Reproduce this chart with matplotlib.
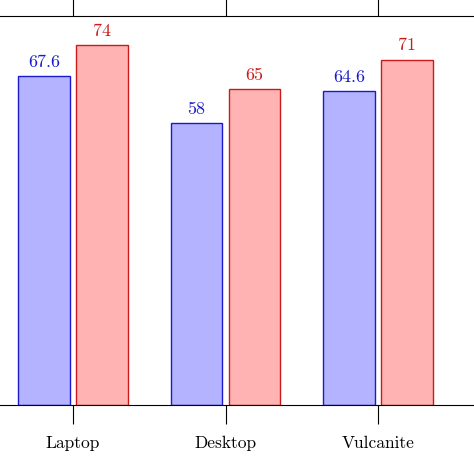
import matplotlib.pyplot as plt
import numpy as np

plt.rcParams["font.family"] = ["cmr10", "DejaVu Serif"]
plt.rcParams["axes.formatter.use_mathtext"] = True

categories = ["Laptop", "Desktop", "Vulcanite"]
blue_values = [67.6, 58, 64.6]
red_values = [74, 65, 71]
blue_labels = ["67.6", "58", "64.6"]
red_labels = ["74", "65", "71"]
cut_label = "Average"  # fourth group, mostly outside the crop

fig = plt.figure(figsize=(4.74, 4.74), dpi=100)
ax = fig.add_axes([0, 1 - 405 / 474, 1, (405 - 16) / 474])

x = np.arange(len(categories))
offset = 0.19
width = 0.34
ax.bar(x - offset, blue_values, width, color="#b3b3ff", edgecolor="#1a1acc", linewidth=1)
ax.bar(x + offset, red_values, width, color="#ffb3b3", edgecolor="#cc1a1a", linewidth=1)

for xi, v, s in zip(x, blue_values, blue_labels):
    ax.text(xi - offset, v + 1.3, s, ha="center", va="bottom", color="#1a1acc", fontsize=13)
for xi, v, s in zip(x, red_values, red_labels):
    ax.text(xi + offset, v + 1.3, s, ha="center", va="bottom", color="#cc1a1a", fontsize=13)

ax.set_xlim(-73 / 152.5, (474 - 73) / 152.5)
ax.set_ylim(0, 80)
ax.set_xticks(x)
ax.set_xticklabels(categories, fontsize=12.5)
ax.set_yticks([])
ax.tick_params(axis="x", direction="out", length=14, top=True, width=0.8, pad=8)
for side in ["left", "right"]:
    ax.spines[side].set_visible(False)

# partially visible label of the cut-off fourth group
t = ax.text(3, -10.5, cut_label, ha="center", va="center", fontsize=12.5,
            clip_on=True)
t.set_clip_box(fig.bbox)
t.set_in_layout(False)

fig.savefig("out.png", dpi=100)
